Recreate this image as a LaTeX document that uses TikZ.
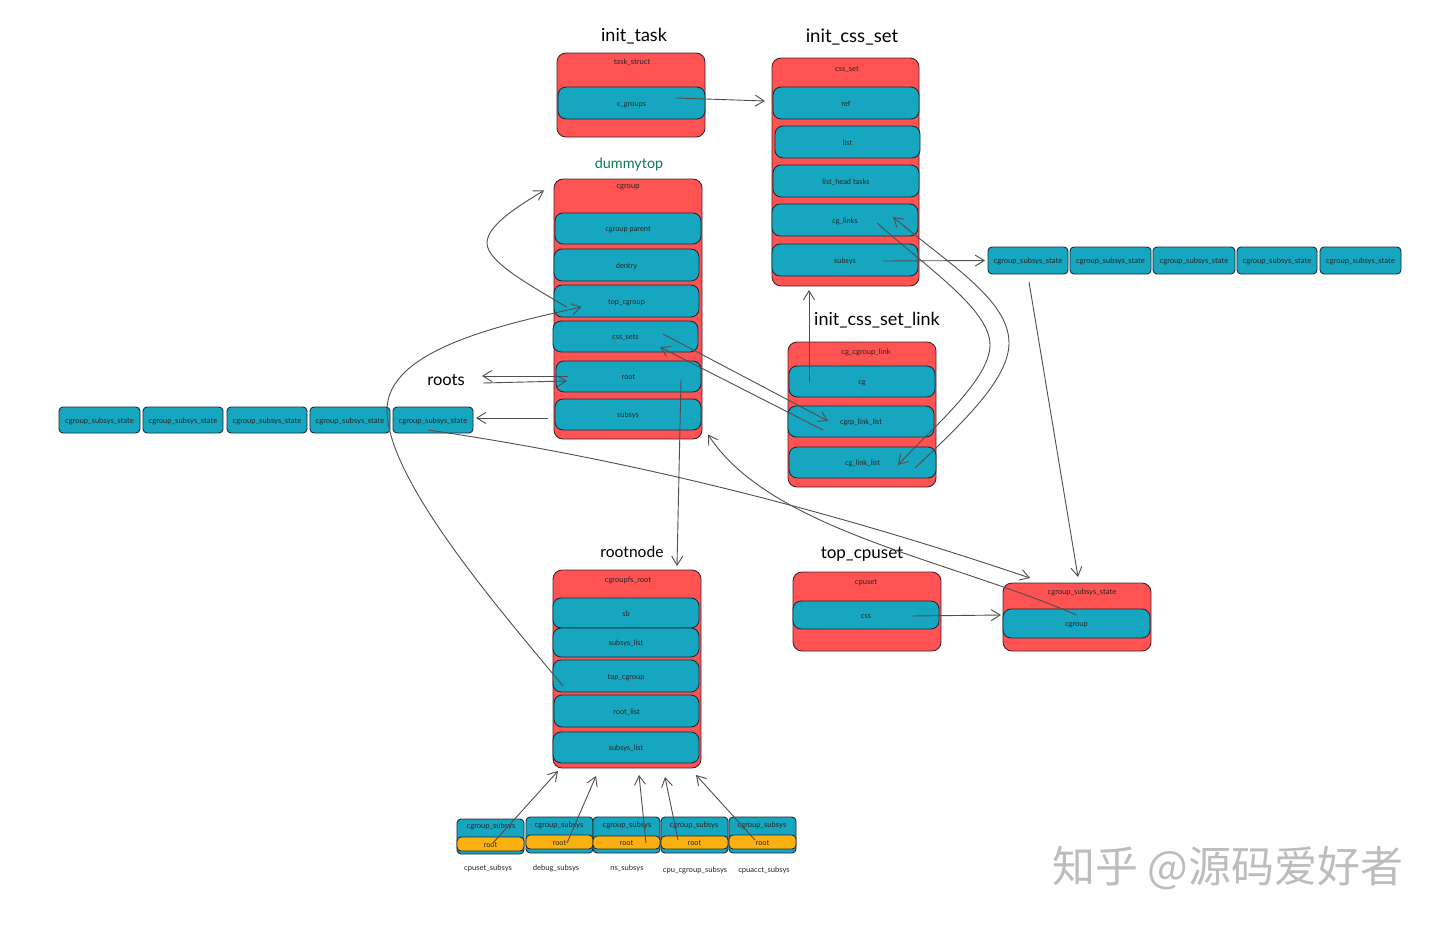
\documentclass[tikz,border=0pt]{standalone}
\usepackage{fontspec}
\setmainfont{Lato}
\newfontfamily\cjkwm{Noto Sans CJK SC}
\usetikzlibrary{arrows.meta}
\definecolor{cred}{HTML}{FF5253}
\definecolor{cteal}{HTML}{16A6BF}
\definecolor{cyel}{HTML}{F9B010}
\definecolor{cink}{HTML}{1E2A36}
\definecolor{cline}{HTML}{4F4F4F}
\definecolor{cgreen}{HTML}{0B7A55}
\definecolor{cwm}{HTML}{BDBDBD}
\tikzset{
  x=1pt,y=-1pt,
  every node/.style={inner sep=0pt,outer sep=0pt,text=black!85},
  redbox/.style={draw=cink!80!red,fill=cred,rounded corners=9pt,line width=.9pt},
  tealbox/.style={draw=cink,fill=cteal,rounded corners=8pt,line width=.9pt,font=\fontsize{7.4}{8}\selectfont,text height=6pt,text depth=0pt},
  arrbox/.style={draw=cink,fill=cteal,rounded corners=4pt,line width=.9pt,font=\fontsize{7.6}{8}\selectfont,text height=6pt,text depth=0pt},
  yelbox/.style={draw=cink,fill=cyel,rounded corners=4pt,line width=.9pt,font=\fontsize{7.4}{8}\selectfont,text height=6pt,text depth=0pt},
  smalltxt/.style={font=\fontsize{7.6}{8}\selectfont,text height=6pt,text depth=0pt},
  titletxt/.style={text=black},
  conn/.style={draw=cline,line width=.9pt,-{Straight Barb[length=9pt,width=11pt,line width=.9pt]}},
}
% \pb{name}{style}{x1}{y1}{x2}{y2}{text}
\newcommand\pb[7]{%
  \pgfmathsetmacro\pbcx{(#3+#5)/2}\pgfmathsetmacro\pbcy{(#4+#6)/2}%
  \pgfmathsetmacro\pbw{#5-#3}\pgfmathsetmacro\pbh{#6-#4}%
  \node[#2,minimum width=\pbw pt,minimum height=\pbh pt] (#1) at (\pbcx,\pbcy) {#7};}
\newcommand\fs[1]{\fontsize{#1}{20}\selectfont}
\begin{document}
\begin{tikzpicture}
\useasboundingbox[fill=white] (0,0) rectangle (1440,926);

% red containers
\pb{taskbox}{redbox}{557}{53}{705}{137}{}
\pb{cssset}{redbox}{772}{58}{919}{286}{}
\pb{cgroupbox}{redbox}{554}{179}{702}{439}{}
\pb{linkbox}{redbox}{788}{342}{936}{487}{}
\pb{fsroot}{redbox}{553}{570}{701}{768}{}
\pb{cpusetbox}{redbox}{793}{572}{941}{651}{}
\pb{statebox}{redbox}{1003}{583}{1151}{651}{}

% container labels
\node[smalltxt] (ltask) at (632,61) {task\_struct};
\node[smalltxt] (lcss) at (847,68) {css\_set};
\node[smalltxt] (lcg) at (628,185) {cgroup};
\node[smalltxt] (llink) at (866,351) {cg\_cgroup\_link};
\node[smalltxt] (lfs) at (628,579) {cgroupfs\_root};
\node[smalltxt] (lcpuset) at (866,581) {cpuset};
\node[smalltxt] (lstate) at (1082,591) {cgroup\_subsys\_state};

% teal fields
\pb{tcgroups}{tealbox}{558}{87}{705}{119}{c\_groups}
\pb{cref}{tealbox}{773}{87}{919}{119}{ref}
\pb{clist}{tealbox}{775}{126}{920}{158}{list}
\pb{ctasks}{tealbox}{773}{165}{919}{197}{list\_head tasks}
\pb{cglinks}{tealbox}{772}{204}{918}{236}{cg\_links}
\pb{csubsys}{tealbox}{772}{244}{918}{276}{subsys}
\pb{gparent}{tealbox}{555}{213}{701}{244}{cgroup parent}
\pb{gdentry}{tealbox}{554}{249}{699}{281}{dentry}
\pb{topcg}{tealbox}{554}{285}{699}{317}{top\_cgroup}
\pb{cssets}{tealbox}{553}{321}{698}{352}{css\_sets}
\pb{rootc}{tealbox}{556}{361}{701}{392}{root}
\pb{gsub}{tealbox}{555}{399}{701}{430}{subsys}
\pb{cgcg}{tealbox}{789}{366}{935}{397}{cg}
\pb{cgrplist}{tealbox}{788}{406}{934}{437}{cgrp\_link\_list}
\pb{cglist}{tealbox}{789}{447}{936}{478}{cg\_link\_list}
\pb{fsb}{tealbox}{553}{598}{699}{628}{sb}
\pb{fssub}{tealbox}{553}{628}{699}{657}{subsys\_list}
\pb{rtop}{tealbox}{553}{660}{699}{692}{top\_cgroup}
\pb{frlist}{tealbox}{554}{695}{699}{727}{root\_list}
\pb{fssub2}{tealbox}{553}{732}{699}{763}{subsys\_list}
\pb{css}{tealbox}{793}{601}{939}{629}{css}
\pb{stcg}{tealbox}{1003}{609}{1150}{638}{cgroup}

% state arrays
\pb{rarr1}{arrbox}{988}{247}{1068}{274}{cgroup\_subsys\_state}
\pb{rarr2}{arrbox}{1070}{247}{1151}{274}{cgroup\_subsys\_state}
\pb{rarr3}{arrbox}{1153}{247}{1235}{274}{cgroup\_subsys\_state}
\pb{rarr4}{arrbox}{1237}{247}{1317}{274}{cgroup\_subsys\_state}
\pb{rarr5}{arrbox}{1320}{247}{1401}{274}{cgroup\_subsys\_state}
\pb{larr1}{arrbox}{59}{407}{140}{433}{cgroup\_subsys\_state}
\pb{larr2}{arrbox}{143}{407}{223}{433}{cgroup\_subsys\_state}
\pb{larr3}{arrbox}{227}{407}{307}{433}{cgroup\_subsys\_state}
\pb{larr4}{arrbox}{310}{407}{390}{433}{cgroup\_subsys\_state}
\pb{larr5}{arrbox}{393}{407}{473}{433}{cgroup\_subsys\_state}

% subsystems
\pb{s1}{arrbox}{457}{819}{524}{854}{}
\pb{s2}{arrbox}{526}{817}{593}{853}{}
\pb{s3}{arrbox}{593}{817}{660}{853}{}
\pb{s4}{arrbox}{661}{817}{728}{853}{}
\pb{s5}{arrbox}{729}{817}{796}{853}{}
\node[smalltxt] (st1) at (491,825) {cgroup\_subsys};
\node[smalltxt] (st2) at (559,824) {cgroup\_subsys};
\node[smalltxt] (st3) at (627,824) {cgroup\_subsys};
\node[smalltxt] (st4) at (694,824) {cgroup\_subsys};
\node[smalltxt] (st5) at (762,824) {cgroup\_subsys};
\pb{y1}{yelbox}{457}{837}{524}{851}{root}
\pb{y2}{yelbox}{526}{835}{593}{849}{root}
\pb{y3}{yelbox}{593}{836}{660}{849}{root}
\pb{y4}{yelbox}{661}{836}{728}{849}{root}
\pb{y5}{yelbox}{729}{835}{796}{849}{root}
\node[smalltxt] (sl1) at (488,867) {cpuset\_subsys};
\node[smalltxt] (sl2) at (556,867) {debug\_subsys};
\node[smalltxt] (sl3) at (627,867) {ns\_subsys};
\node[smalltxt] (sl4) at (695,869) {cpu\_cgroup\_subsys};
\node[smalltxt] (sl5) at (764,869) {cpuacct\_subsys};

% titles
\node[titletxt,font=\fs{18}] (tinit) at (634,36) {init\_task};
\node[titletxt,font=\fs{18.6}] (tcss) at (852,37) {init\_css\_set};
\node[titletxt,font=\fs{14.4},text=cgreen] (tdummy) at (629,164) {dummytop};
\node[titletxt,font=\fs{18}] (tlink) at (877,320) {init\_css\_set\_link};
\node[titletxt,font=\fs{16.5}] (troots) at (446,380) {roots};
\node[titletxt,font=\fs{15.6}] (trootnode) at (632,552) {rootnode};
\node[titletxt,font=\fs{17}] (tcpuset) at (862,554) {top\_cpuset};

% connectors
\draw[conn] ([shift={(44.5,-5)}]tcgroups.center) -- ([shift={(-80.5,-71)}]cssset.center);
\draw[conn] ([shift={(38,1)}]csubsys.center) -- ([shift={(-3,0)}]rarr1.west);
\draw[conn] ([shift={(32,3)}]cglinks.center) .. controls (930,270) and (990,310) .. (990,345) .. controls (990,380) and (930,430) .. ([shift={(35.5,2.5)}]cglist.center);
\draw[conn] ([shift={(52.5,5.5)}]cglist.center) .. controls (960,425) and (1009,380) .. (1009,343) .. controls (1009,300) and (950,265) .. ([shift={(48,-3)}]cglinks.center);
\draw[conn] ([shift={(-53,.5)}]cgcg.center) -- ([shift={(-36.5,4)}]cssset.south);
\draw[conn] ([shift={(37.5,-2.5)}]cssets.center) -- ([shift={(-33,-.5)}]cgrplist.center);
\draw[conn] ([shift={(-38,8.5)}]cgrplist.center) -- ([shift={(34.5,10.5)}]cssets.center);
\draw[conn] ([shift={(-60,6)}]topcg.center) .. controls (530,285) and (487,262) .. (487,243) .. controls (487,225) and (520,205) .. ([shift={(-84,-118.5)}]cgroupbox.center);
\draw[conn] ([shift={(-63,10)}]rtop.center) .. controls (500,610) and (387,480) .. (387,410) .. controls (387,350) and (500,325) .. ([shift={(-45,6)}]topcg.center);
\draw[conn] ([shift={(-60.5,-.5)}]rootc.center) -- ([shift={(36,-4)}]troots.center);
\draw[conn] ([shift={(37,3)}]troots.center) -- ([shift={(-61.5,4.5)}]rootc.center);
\draw[conn] ([shift={(-80,3.5)}]gsub.center) -- ([shift={(43,-2)}]larr5.center);
\draw[conn] ([shift={(52.5,3.5)}]rootc.center) -- ([shift={(50,-103)}]fsroot.center);
\draw[conn] ([shift={(-5,10)}]larr5.center) .. controls (600,455) and (800,500) .. ([shift={(-47,-39)}]statebox.center);
\draw[conn] ([shift={(0,-8.5)}]stcg.center) .. controls (950,560) and (770,530) .. ([shift={(80,125.5)}]cgroupbox.center);
\draw[conn] ([shift={(1,21.5)}]rarr1.center) -- ([shift={(1,-40)}]statebox.center);
\draw[conn] ([shift={(46,1)}]css.center) -- ([shift={(-76,-2)}]statebox.center);
\draw[conn] ([shift={(2.5,-1)}]y1.center) -- ([shift={(-69,102)}]fsroot.center);
\draw[conn] ([shift={(7.5,1)}]y2.center) -- ([shift={(-31,107)}]fsroot.center);
\draw[conn] ([shift={(19.5,.5)}]y3.center) -- ([shift={(12,106)}]fsroot.center);
\draw[conn] ([shift={(-16.5,-2.5)}]y4.center) -- ([shift={(38,108)}]fsroot.center);
\draw[conn] ([shift={(-7.5,-2)}]y5.center) -- ([shift={(69,106)}]fsroot.center);

% watermark
\node[font=\cjkwm\fontsize{43}{46}\selectfont,text=cwm] (wm) at (1228,868) {知乎 @源码爱好者};
\end{tikzpicture}
\end{document}
